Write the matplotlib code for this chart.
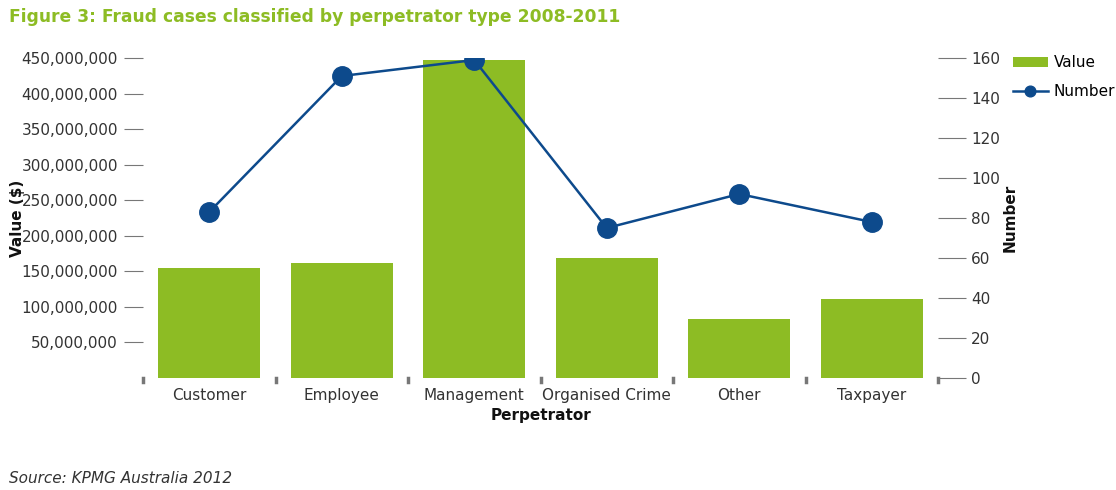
import numpy as np
import matplotlib.pyplot as plt

categories = ['Customer', 'Employee', 'Management', 'Organised Crime', 'Other', 'Taxpayer']
values = [155e6, 162e6, 447e6, 169e6, 83e6, 111e6]
numbers = [83, 151, 159, 75, 92, 78]

green = '#8dbc24'
navy = '#0d4a8c'
grey = '#333333'
fs = 11

fig = plt.figure(figsize=(11.16, 4.9), dpi=100)
ax = fig.add_axes([143 / 1116, 1 - 378 / 490, 795 / 1116, 320 / 490])
x = np.arange(len(categories))
ax.bar(x, values, width=0.77, color=green, label='Value', zorder=1)
ax.set_xlim(-0.5, 5.5)
ax.set_ylim(0, 450e6)
ax.set_yticks(np.arange(50e6, 451e6, 50e6))
ax.set_yticklabels([f'{int(v):,}' for v in np.arange(50e6, 451e6, 50e6)])
ax.tick_params(axis='y', length=14, width=0.8, color='#777777', labelsize=fs,
               labelcolor=grey, pad=4)
ax.set_xticks(x)
ax.set_xticklabels(categories)
ax.tick_params(axis='x', length=0, labelsize=fs, labelcolor=grey, pad=7)
for b in np.arange(-0.5, 6, 1):
    ax.plot([b, b], [-0.012, 0.0], transform=ax.get_xaxis_transform(),
            color='#777777', lw=2.5, clip_on=False)
for s in ax.spines.values():
    s.set_visible(False)
ax.set_xlabel('Perpetrator', fontsize=fs, fontweight='bold', color='#111111')
fig.text(0.016, 0.555, 'Value ($)', rotation=90, ha='center', va='center',
         fontsize=fs, fontweight='bold', color='#111111')

ax2 = ax.twinx()
ax2.plot(x, numbers, color=navy, lw=1.8, marker='o', markersize=14, label='Number')
ax2.set_ylim(0, 160)
ax2.set_yticks(np.arange(0, 161, 20))
ax2.tick_params(axis='y', length=20, width=0.8, color='#777777', labelsize=fs,
                labelcolor=grey, pad=4)
for s in ax2.spines.values():
    s.set_visible(False)
ax2.set_ylabel('Number', fontsize=fs, fontweight='bold', color='#111111', labelpad=2)

h1, l1 = ax.get_legend_handles_labels()
h2, l2 = ax2.get_legend_handles_labels()
fig.legend(h1 + h2, l1 + l2, loc='upper left', bbox_to_anchor=(0.895, 0.915),
           frameon=False, fontsize=fs, handlelength=2.3, markerscale=0.55,
           labelspacing=0.9, handletextpad=0.4)

fig.text(0.008, 0.955, 'Figure 3: Fraud cases classified by perpetrator type 2008-2011',
         fontsize=12.3, fontweight='bold', color=green)
fig.text(0.008, 0.015, 'Source: KPMG Australia 2012', fontsize=fs,
         style='italic', color=grey)

fig.savefig('out.png', dpi=100)
